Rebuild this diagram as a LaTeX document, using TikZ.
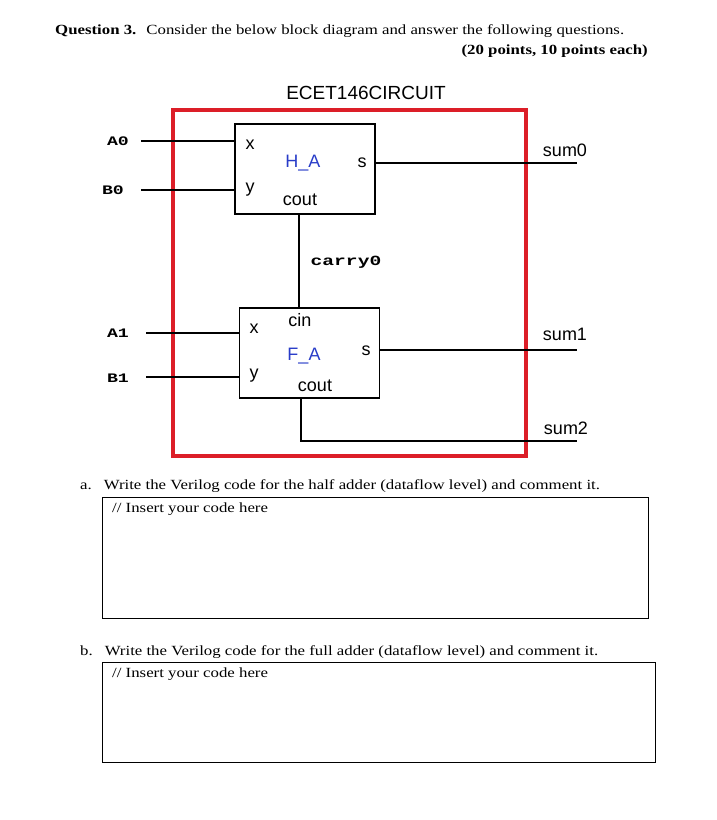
\documentclass[tikz,border=0pt]{standalone}
\usepackage{fontspec}
\setmainfont{Liberation Serif}[FakeStretch=1.2]
\newfontfamily\sans{Liberation Sans}
\newfontfamily\mono{Liberation Mono}[FakeStretch=1.4]
\begin{document}
\begin{tikzpicture}[x=1pt,y=-1pt,
  wire/.style={line width=1.4pt},
  blk/.style={draw,line width=1.4pt,minimum width=140pt,minimum height=90pt,inner sep=0},
  lbl/.style={font=\sans\fontsize{18}{18}\selectfont,inner sep=0},
  pin/.style={font=\mono\bfseries\fontsize{13}{13}\selectfont,inner sep=0},
  txt/.style={font=\fontsize{14}{14}\selectfont,inner sep=0,anchor=west}]
\useasboundingbox (0,0) rectangle (717,820);
\node[txt] (q) at (55,31) {\textbf{Question 3.}\hspace{10pt}Consider the below block diagram and answer the following questions.};
\node[txt,anchor=east] (pts) at (648,51) {\textbf{(20 points, 10 points each)}};
\node[lbl,font=\sans\fontsize{19}{19}\selectfont] (title) at (366,93) {ECET146CIRCUIT};
\draw[line width=4pt,draw={rgb,255:red,220;green,30;blue,40}] (173,110) rectangle (526,456);
\node[blk] (ha) at (305,169) {};
\node[blk] (fa) at (309.5,353) {};
\node[lbl] at (250,145) {x};
\node[lbl,text={rgb,255:red,40;green,60;blue,200}] at (303,163) {H\_A};
\node[lbl] at (362,163) {s};
\node[lbl] at (250,190) {y};
\node[lbl] at (300,200) {cout};
\node[lbl] at (300,320) {cin};
\node[lbl] at (254,329) {x};
\node[lbl,text={rgb,255:red,40;green,60;blue,200}] at (304,356) {F\_A};
\node[lbl] at (366,351) {s};
\node[lbl] at (254,376) {y};
\node[lbl] at (315,386) {cout};
\node[pin] (a0) at (118,141) {A0};
\node[pin] (b0) at (113,190) {B0};
\node[pin] (a1) at (118,333) {A1};
\node[pin] (b1) at (118,378) {B1};
\node[pin,font=\mono\bfseries\fontsize{14}{14}\selectfont] (c0) at (346,262) {carry0};
\coordinate (a0e) at (141,141); \coordinate (b0e) at (141,190);
\coordinate (a1e) at (146,333); \coordinate (b1e) at (146,377);
\draw[wire] (a0e) -- (ha.west |- a0e);
\draw[wire] (b0e) -- (ha.west |- b0e);
\draw[wire] (a1e) -- (fa.west |- a1e);
\draw[wire] (b1e) -- (fa.west |- b1e);
\coordinate (s0) at (577,163); \coordinate (s1) at (577,350); \coordinate (s2) at (577,441);
\draw[wire] (ha.east |- s0) -- (s0);
\draw[wire] (fa.east |- s1) -- (s1);
\draw[wire] (299,214) -- (299,308);
\draw[wire] (301,398) -- (301,441) -- (s2);
\node[lbl] at (565,150) {sum0};
\node[lbl] at (565,334) {sum1};
\node[lbl] at (566,428) {sum2};
\node[txt] at (80,486) {a.\hspace{12pt}Write the Verilog code for the half adder (dataflow level) and comment it.};
\draw[line width=0.8pt] (102,497) rectangle (648,618);
\node[txt] at (112,509) {// Insert your code here};
\node[txt] at (80,652) {b.\hspace{12pt}Write the Verilog code for the full adder (dataflow level) and comment it.};
\draw[line width=0.8pt] (102,662) rectangle (655,762);
\node[txt] at (112,674) {// Insert your code here};
\end{tikzpicture}
\end{document}
